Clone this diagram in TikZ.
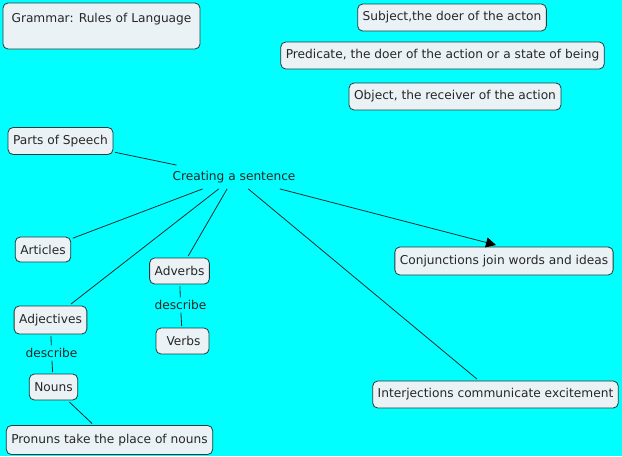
\documentclass[tikz,border=0pt]{standalone}
\usepackage{fontspec}
\setmainfont{DejaVu Sans}
\usetikzlibrary{arrows.meta,positioning}
\definecolor{mapcyan}{HTML}{00FFFF}
\definecolor{boxfill}{HTML}{EBF2F6}
\definecolor{boxline}{HTML}{1F3A3A}
\definecolor{inkline}{HTML}{1A2E2E}
\tikzset{
  % begreppskarta
  cn/.style={draw=boxline,fill=boxfill,line width=0.8pt,rounded corners=5pt,
             inner xsep=5pt,inner ysep=0pt,minimum height=27pt,text=black!85,
             outer sep=2pt},
  cw/.style={inner sep=1pt,text=black!85,outer sep=2pt},
  cl/.style={draw=inkline,line width=0.8pt},
}

\begin{document}
\begin{tikzpicture}[x=1pt,y=-1pt,every node/.append style={font=\fontsize{12.2}{14}\selectfont}]
  \fill[mapcyan] (0,0) rectangle (622,456);
  \useasboundingbox (0,0) rectangle (622,456);
  \node[cn,minimum width=197pt,text height=16pt,text depth=24pt,anchor=north west,inner ysep=3pt] (gram) at (1,1) {Grammar: Rules of Language};
  \node[cn] (subj) at (452,17.5) {Subject,the doer of the acton};
  \node[cn] (pred) at (442.5,55.5) {Predicate, the doer of the action or a state of being};
  \node[cn] (obj) at (455,96.5) {Object, the receiver of the action};
  \node[cn] (parts) at (60.5,141) {Parts of Speech};
  \node[cw,inner sep=4pt] (sent) at (234,177) {Creating a sentence};
  \node[cn,minimum height=25pt] (art) at (43,249.5) {Articles};
  \node[cn,minimum height=26pt] (adv) at (179.5,271) {Adverbs};
  \node[cw] (desc1) at (180.5,305) {describe};
  \node[cn,minimum height=26pt,minimum width=53pt] (verb) at (182.5,341) {\,Verbs};
  \node[cn,minimum height=28pt] (adj) at (50.5,320) {Adjectives};
  \node[cw] (desc2) at (51.5,353) {describe};
  \node[cn,minimum height=26pt] (noun) at (53.5,387) {Nouns};
  \node[cn,minimum height=29pt] (pron) at (109.5,440) {Pronuns take the place of nouns};
  \node[cn,minimum height=28pt] (conj) at (504,261) {Conjunctions join words and ideas};
  \node[cn] (inter) at (495.5,394.5) {Interjections communicate excitement};

  \draw[cl] (parts) -- (sent);
  \draw[cl] (sent) -- (art);
  \draw[cl] (sent) -- (adj);
  \draw[cl] (sent) -- (adv);
  \draw[cl] (sent) -- (inter);
  \draw[cl,-{Triangle[length=10pt,width=10pt,color=black]}] (sent) -- ([xshift=-8pt]conj.north);
  \draw[cl] (adv) -- (desc1) -- (verb);
  \draw[cl] (adj) -- (desc2) -- (noun);
  \draw[cl] (noun) -- (pron);
\end{tikzpicture}
\end{document}
